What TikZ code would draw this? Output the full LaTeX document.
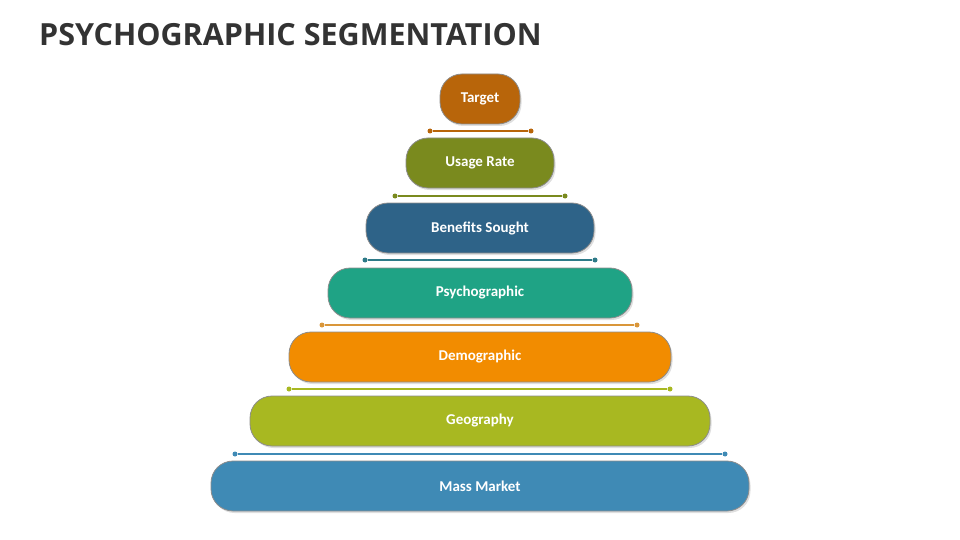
\documentclass[tikz,border=0pt]{standalone}
\usepackage{fontspec}
\setmainfont{Carlito}
\newfontfamily\titlefont{Open Sans}
\usetikzlibrary{shadows}
\definecolor{cT}{HTML}{B8650A}
\definecolor{cU}{HTML}{7A8A1E}
\definecolor{cB}{HTML}{2E6388}
\definecolor{cP}{HTML}{1FA385}
\definecolor{cD}{HTML}{F28C00}
\definecolor{cG}{HTML}{A8B821}
\definecolor{cM}{HTML}{3F8AB5}
\definecolor{cL4}{HTML}{D9963A}
\definecolor{cL3}{HTML}{2E7A88}
\definecolor{titlec}{HTML}{333333}
\tikzset{
  pill/.style={rounded corners=22pt, draw=black!45, line width=0.8pt, text=white,
    font=\bfseries\fontsize{15}{17}\selectfont, minimum height=50pt, inner sep=0pt,
    drop shadow={shadow xshift=1.5pt, shadow yshift=-2pt, opacity=0.25}},
  sep/.style={line width=1.4pt},
  dot/.style={circle, inner sep=0pt, minimum size=5pt}
}
\begin{document}
\begin{tikzpicture}[x=1pt,y=-1pt]
\useasboundingbox (0,0) rectangle (960,540);
\node[anchor=west, inner sep=0pt, text=titlec, font=\titlefont\bfseries\fontsize{30.5}{33}\selectfont] (title) at (39,35) {PSYCHOGRAPHIC SEGMENTATION};
\node[pill, fill=cT, minimum width=80pt] (t) at (480,99) {Target};
\node[pill, fill=cU, minimum width=148pt] (u) at (480,163) {Usage Rate};
\node[pill, fill=cB, minimum width=228pt] (b) at (480,228) {Benefits Sought};
\node[pill, fill=cP, minimum width=304pt] (p) at (480,293) {Psychographic};
\node[pill, fill=cD, minimum width=382pt] (d) at (480,357) {Demographic};
\node[pill, fill=cG, minimum width=460pt] (g) at (480,421) {Geography};
\node[pill, fill=cM, minimum width=538pt] (m) at (480,486) {Mass Market};
\foreach \y/\a/\b/\c/\n in {131/430/531/cT/1, 196/395/565/cU/2, 260/365/595/cL3/3, 325/322/637/cL4/4, 389/289/670/cG/5, 454/235/725/cM/6}{
  \node[dot, fill=\c] (l\n a) at (\a,\y) {};
  \node[dot, fill=\c] (l\n b) at (\b,\y) {};
  \draw[sep, draw=\c] (l\n a) -- (l\n b);
}
\end{tikzpicture}
\end{document}
